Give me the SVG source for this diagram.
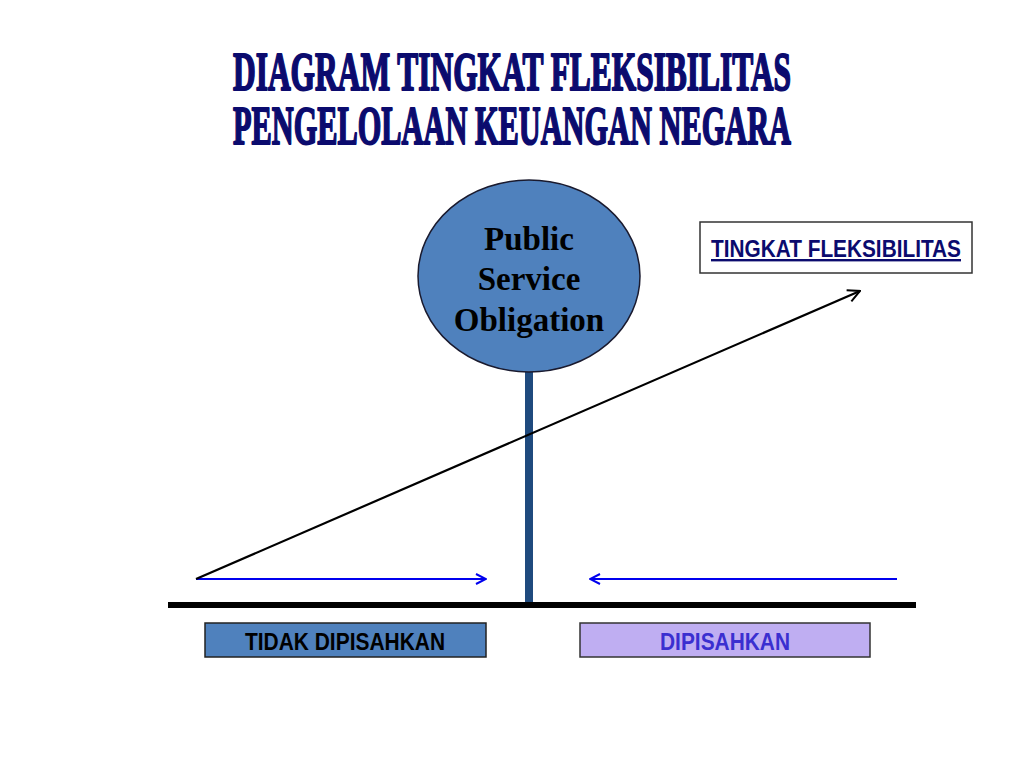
<svg xmlns="http://www.w3.org/2000/svg" width="1024" height="768" viewBox="0 0 1024 768">
<defs>
<style>
.title{font-family:"Liberation Serif",serif;font-weight:bold;font-size:54px;fill:#0B0B6E;stroke:#0B0B6E;stroke-width:2;stroke-linejoin:round}
.pso{font-family:"Liberation Serif",serif;font-weight:bold;font-size:33px;fill:#000;text-anchor:middle}
.lbl{font-family:"Liberation Sans",Arial,sans-serif;font-weight:bold;font-size:24px;text-anchor:middle}
</style>
<marker id="ab" viewBox="0 0 12 12" refX="11" refY="6" markerWidth="12" markerHeight="12" markerUnits="userSpaceOnUse" orient="auto">
<path d="M1,1 L11,6 L1,11" fill="none" stroke="#0000EE" stroke-width="2"/>
</marker>
<marker id="ak" viewBox="0 0 14 14" refX="13" refY="7" markerWidth="14" markerHeight="14" markerUnits="userSpaceOnUse" orient="auto">
<path d="M1,1 L13,7 L1,13" fill="none" stroke="#000" stroke-width="2"/>
</marker>
</defs>
<rect width="1024" height="768" fill="#fff"/>
<g id="title">
<text class="title" x="233" y="90" textLength="558" lengthAdjust="spacingAndGlyphs">DIAGRAM TINGKAT FLEKSIBILITAS</text>
<text class="title" x="233" y="144" textLength="558" lengthAdjust="spacingAndGlyphs">PENGELOLAAN KEUANGAN NEGARA</text>
</g>
<g id="connectors">
<line x1="529" y1="372" x2="529" y2="605" stroke="#1F4A7E" stroke-width="8"/>
<line x1="168" y1="605" x2="916" y2="605" stroke="#000" stroke-width="6"/>
<line x1="196" y1="579" x2="486" y2="579" stroke="#0000EE" stroke-width="2.2" marker-end="url(#ab)"/>
<line x1="897" y1="579" x2="590" y2="579" stroke="#0000EE" stroke-width="2.2" marker-end="url(#ab)"/>
<line x1="196" y1="579" x2="860" y2="291" stroke="#000" stroke-width="2.2" marker-end="url(#ak)"/>
</g>
<g id="pso">
<ellipse cx="529" cy="276" rx="111" ry="96" fill="#4F81BD" stroke="#1a1a2e" stroke-width="1.5"/>
<text class="pso" x="529" y="250">Public</text>
<text class="pso" x="529" y="290">Service</text>
<text class="pso" x="529" y="331">Obligation</text>
</g>
<g id="tingkat">
<rect x="700" y="222" width="272" height="51" fill="#fff" stroke="#333" stroke-width="1.5"/>
<text class="lbl" x="836" y="257" fill="#0B0B6E" text-decoration="underline" textLength="250" lengthAdjust="spacingAndGlyphs">TINGKAT FLEKSIBILITAS</text>
</g>
<g id="tidak">
<rect x="205" y="623" width="281" height="34" fill="#4F81BD" stroke="#222" stroke-width="1.5"/>
<text class="lbl" x="345" y="650" fill="#000" textLength="200" lengthAdjust="spacingAndGlyphs">TIDAK DIPISAHKAN</text>
</g>
<g id="dipisahkan">
<rect x="580" y="623" width="290" height="34" fill="#BFAEF2" stroke="#333" stroke-width="1.5"/>
<text class="lbl" x="725" y="650" fill="#3A2FD0" textLength="130" lengthAdjust="spacingAndGlyphs">DIPISAHKAN</text>
</g>
</svg>
